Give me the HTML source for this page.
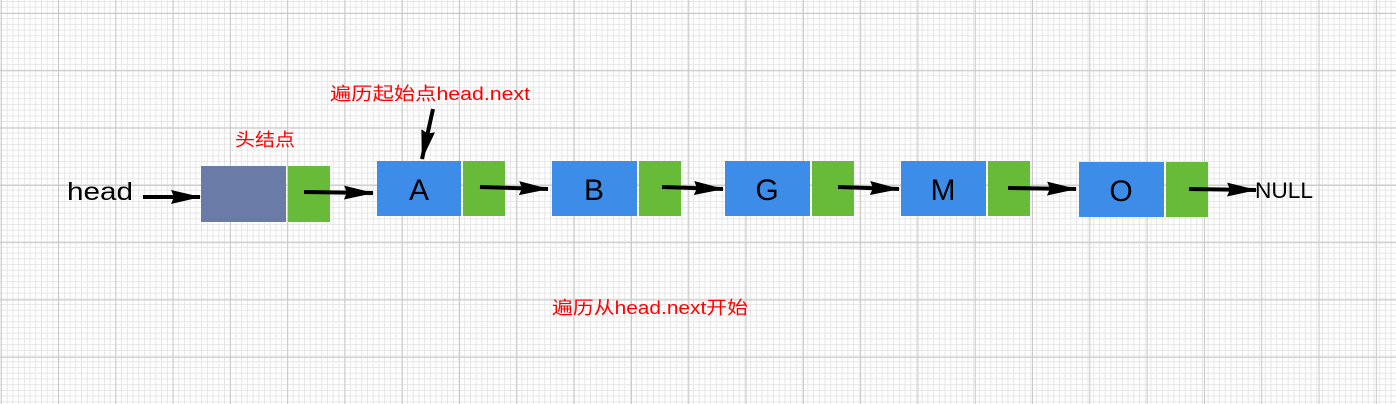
<!DOCTYPE html>
<html><head><meta charset="utf-8"><style>
html,body{margin:0;padding:0;}
body{width:1396px;height:404px;overflow:hidden;background-color:#fff;
background-image:
linear-gradient(to right,#c8c8c8 1px,transparent 1px),
linear-gradient(to bottom,#c8c8c8 1px,transparent 1px),
linear-gradient(to right,#e6e6e6 1px,transparent 1px),
linear-gradient(to bottom,#e6e6e6 1px,transparent 1px);
background-size:57.3px 57.3px,57.3px 57.3px,5.73px 5.73px,5.73px 5.73px;
background-position:58px 13px,58px 13px,1px 1px,1px 1px;}
svg{position:absolute;left:0;top:0}
text{font-family:"Liberation Sans","Noto Sans CJK SC",sans-serif}
</style></head><body>
<svg width="1396" height="404">
<defs><marker id="ah" markerWidth="30" markerHeight="14" refX="29" refY="7" orient="auto" markerUnits="userSpaceOnUse"><path d="M0,0 L30,7 L0,14 L3,7z" fill="#000"/></marker></defs>
<rect x="201" y="166" width="85" height="56" fill="#6b7ba7"/>
<rect x="288" y="166" width="42" height="56" fill="#67bb38"/>
<g fill="#3c8ce8">
<rect x="377" y="161" width="84" height="55"/>
<rect x="552" y="161" width="85" height="55"/>
<rect x="725" y="161" width="85" height="55"/>
<rect x="901" y="161" width="85" height="55"/>
<rect x="1079" y="162" width="85" height="55"/>
</g>
<g fill="#67bb38">
<rect x="463" y="161" width="42" height="55"/>
<rect x="639" y="161" width="42" height="55"/>
<rect x="812" y="161" width="42" height="55"/>
<rect x="988" y="161" width="42" height="55"/>
<rect x="1166" y="162" width="42" height="55"/>
</g>
<g stroke="#000" stroke-width="4" marker-end="url(#ah)">
<line x1="143" y1="197" x2="200" y2="197"/>
<line x1="304" y1="192" x2="373" y2="193"/>
<line x1="480" y1="187" x2="548" y2="189"/>
<line x1="662" y1="187" x2="723" y2="189"/>
<line x1="838" y1="187" x2="899" y2="189"/>
<line x1="1008" y1="188" x2="1076" y2="189"/>
<line x1="1189" y1="189" x2="1256" y2="190"/>
<line x1="433" y1="109" x2="422" y2="159"/>
</g>
<g font-size="30" text-anchor="middle" fill="#000">
<text x="419" y="200">A</text>
<text x="594" y="200">B</text>
<text x="767" y="200">G</text>
<text x="943" y="200">M</text>
<text x="1121" y="201">O</text>
</g>
<text x="67" y="200" font-size="25" fill="#000" textLength="66" lengthAdjust="spacingAndGlyphs">head</text>
<text x="1255" y="198" font-size="22" fill="#000" textLength="58" lengthAdjust="spacingAndGlyphs">NULL</text>
<g fill="#ff0000" font-size="18">
<text x="235" y="146" textLength="60" lengthAdjust="spacingAndGlyphs">头结点</text>
<text x="330" y="100" textLength="200" lengthAdjust="spacingAndGlyphs">遍历起始点head.next</text>
<text x="552" y="314" textLength="196" lengthAdjust="spacingAndGlyphs">遍历从head.next开始</text>
</g>
</svg>
</body></html>
